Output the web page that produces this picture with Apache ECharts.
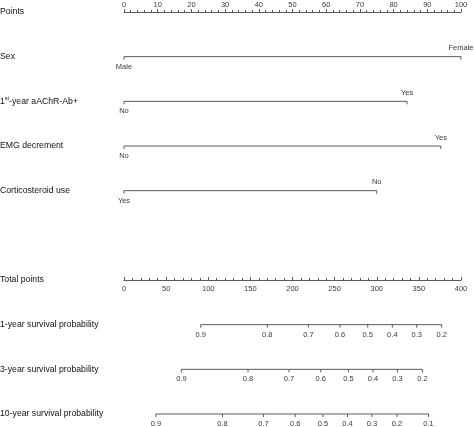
<!DOCTYPE html>
<html>
<head>
<meta charset="utf-8">
<script src="https://cdn.jsdelivr.net/npm/echarts@6/dist/echarts.min.js"></script>
<style>html,body{margin:0;padding:0;background:#fff;}#c{width:474px;height:427px;}</style>
</head>
<body>
<div id="c"></div>
<script>
// ---- data ----
const rowNames = ['Points', 'Sex', '1st-year aAChR-Ab+', 'EMG decrement', 'Corticosteroid use', ' ',
  'Total points', '1-year survival probability', '3-year survival probability', '10-year survival probability'];
const variables = ['Sex', '1st-year aAChR-Ab+', 'EMG decrement', 'Corticosteroid use'];
const levelLow = ['Male', 'No', 'No', 'Yes'];
const levelHigh = ['Female', 'Yes', 'Yes', 'No'];
const pointsHigh = [100, 84, 94, 75];
const probRows = ['1-year survival probability', '3-year survival probability', '10-year survival probability'];
const surv1yLabels = ['0.9', '0.8', '0.7', '0.6', '0.5', '0.4', '0.3', '0.2'];
const surv1yTotal = [91.0, 170.1, 218.8, 256.4, 289.3, 318.5, 347.4, 377.1];
const surv3yLabels = ['0.9', '0.8', '0.7', '0.6', '0.5', '0.4', '0.3', '0.2'];
const surv3yTotal = [68.1, 147.2, 195.9, 233.5, 266.4, 295.6, 324.5, 354.2];
const surv10yLabels = ['0.9', '0.8', '0.7', '0.6', '0.5', '0.4', '0.3', '0.2', '0.1'];
const surv10yTotal = [37.8, 116.9, 165.6, 203.2, 236.1, 265.3, 294.2, 323.9, 361.5];

const probLabels = [surv1yLabels, surv3yLabels, surv10yLabels];
const probTotals = [surv1yTotal, surv3yTotal, surv10yTotal];

const LINE = '#5a5a5a';
const TICKTXT = '#3a3a3a';
const NUMFONT = 'Liberation Sans';
const TITLEFONT = 'Liberation Sans';
const TITLECOLOR = '#111111';
const TITLESIZE = 8.7;

const chart = echarts.init(document.getElementById('c'), null, {renderer: 'canvas'});

const varData = variables.map((v, i) => [0, pointsHigh[i], rowNames.indexOf(v), i]);
const probData = probRows.map((r, i) => [Math.min(...probTotals[i]), Math.max(...probTotals[i]), rowNames.indexOf(r), i]);

function txt(x, y, s) {
  return {type: 'text', style: {x: x, y: y, text: s, fill: TICKTXT, font: '7.5px "' + NUMFONT + '"', align: 'center', verticalAlign: 'middle'}};
}

const option = {
  animation: false,
  backgroundColor: '#fff',
  grid: [
    {left: 124, right: 13, top: 12, bottom: 13, outerBoundsMode: 'none', containLabel: false},
    {left: 124, right: 13, top: 12, bottom: 147, outerBoundsMode: 'none', containLabel: false}
  ],
  xAxis: [
    {
      gridIndex: 0, type: 'value', position: 'top', min: 0, max: 100, interval: 10,
      axisLine: {show: true, lineStyle: {color: LINE, width: 1}},
      axisTick: {show: true, length: 3, lineStyle: {color: LINE}},
      minorTick: {show: true, splitNumber: 5, length: 2, lineStyle: {color: LINE}},
      axisLabel: {fontSize: 7.5, color: TICKTXT, fontFamily: NUMFONT, margin: 3},
      splitLine: {show: false}
    },
    {gridIndex: 0, type: 'value', min: 0, max: 400, show: false},
    {
      gridIndex: 1, type: 'value', position: 'bottom', min: 0, max: 400, interval: 50,
      axisLine: {show: true, lineStyle: {color: LINE, width: 1}},
      axisTick: {show: true, inside: true, length: 3, lineStyle: {color: LINE}},
      minorTick: {show: true, splitNumber: 5, length: 2, lineStyle: {color: LINE}},
      axisLabel: {fontSize: 7.5, color: TICKTXT, fontFamily: NUMFONT, margin: 5},
      splitLine: {show: false}
    }
  ],
  yAxis: [
    {
      gridIndex: 0, type: 'category', data: rowNames, inverse: true, boundaryGap: false,
      axisLine: {show: false}, axisTick: {show: false}, splitLine: {show: false},
      axisLabel: {
        show: true, align: 'left', margin: 124, color: TITLECOLOR, fontFamily: TITLEFONT, fontSize: TITLESIZE,
        formatter: function (v) {
          if (v.indexOf('1st') === 0) return '{n|1}{s|st}{n|' + v.slice(3) + '}';
          return '{n|' + v + '}';
        },
        rich: {
          n: {fontFamily: TITLEFONT, fontSize: TITLESIZE, color: TITLECOLOR},
          s: {fontFamily: TITLEFONT, fontSize: 5.5, color: TITLECOLOR, padding: [0, 0, 5, 0]}
        }
      }
    },
    {gridIndex: 1, type: 'value', show: false}
  ],
  series: [
    {
      type: 'custom', xAxisIndex: 0, yAxisIndex: 0, clip: false,
      encode: {x: [0, 1], y: 2},
      data: varData,
      renderItem: function (params, api) {
        const idx = api.value(3);
        const p0 = api.coord([api.value(0), api.value(2)]);
        const p1 = api.coord([api.value(1), api.value(2)]);
        const ls = {stroke: LINE, lineWidth: 1};
        return {type: 'group', children: [
          {type: 'line', shape: {x1: p0[0], y1: p0[1], x2: p1[0], y2: p1[1]}, style: ls},
          {type: 'line', shape: {x1: p0[0], y1: p0[1], x2: p0[0], y2: p0[1] + 3}, style: ls},
          {type: 'line', shape: {x1: p1[0], y1: p1[1], x2: p1[0], y2: p1[1] + 3}, style: ls},
          txt(p0[0], p0[1] + 10, levelLow[idx]),
          txt(p1[0], p1[1] - 8.5, levelHigh[idx])
        ]};
      }
    },
    {
      type: 'custom', xAxisIndex: 1, yAxisIndex: 0, clip: false,
      encode: {x: [0, 1], y: 2},
      data: probData,
      renderItem: function (params, api) {
        const idx = api.value(3);
        const row = api.value(2);
        const ls = {stroke: LINE, lineWidth: 1};
        const p0 = api.coord([api.value(0), row]);
        const p1 = api.coord([api.value(1), row]);
        const children = [{type: 'line', shape: {x1: p0[0], y1: p0[1], x2: p1[0], y2: p1[1]}, style: ls}];
        probTotals[idx].forEach(function (t, k) {
          const p = api.coord([t, row]);
          children.push({type: 'line', shape: {x1: p[0], y1: p[1], x2: p[0], y2: p[1] + 3}, style: ls});
          children.push(txt(p[0], p[1] + 10, probLabels[idx][k]));
        });
        return {type: 'group', children: children};
      }
    }
  ]
};
chart.setOption(option);
</script>
</body>
</html>
